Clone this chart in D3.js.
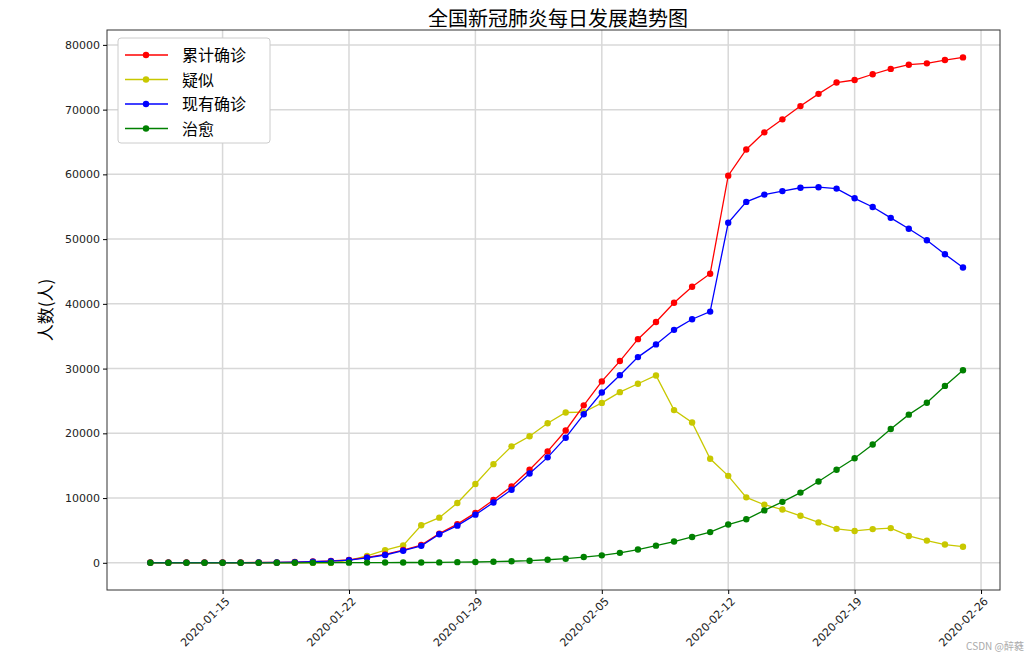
<!DOCTYPE html>
<html><head><meta charset="utf-8">
<script src="https://cdn.jsdelivr.net/npm/d3@7"></script>
<style>body{margin:0;background:#fff;font-family:"Noto Sans CJK SC","DejaVu Sans",sans-serif}</style>
</head><body><svg id="c" width="1031" height="659"></svg>
<script>
const dates = ["2020-01-11","2020-01-12","2020-01-13","2020-01-14","2020-01-15","2020-01-16","2020-01-17","2020-01-18","2020-01-19","2020-01-20","2020-01-21","2020-01-22","2020-01-23","2020-01-24","2020-01-25","2020-01-26","2020-01-27","2020-01-28","2020-01-29","2020-01-30","2020-01-31","2020-02-01","2020-02-02","2020-02-03","2020-02-04","2020-02-05","2020-02-06","2020-02-07","2020-02-08","2020-02-09","2020-02-10","2020-02-11","2020-02-12","2020-02-13","2020-02-14","2020-02-15","2020-02-16","2020-02-17","2020-02-18","2020-02-19","2020-02-20","2020-02-21","2020-02-22","2020-02-23","2020-02-24","2020-02-25"];
const confirmed = [41,41,41,41,41,41,45,62,121,198,291,440,830,1287,1975,2744,4515,5974,7711,9692,11791,14380,17205,20438,24324,28018,31161,34546,37198,40171,42638,44653,59804,63851,66492,68500,70548,72436,74185,74576,75465,76288,76936,77150,77658,78064];
const suspected = [0,0,0,0,0,0,0,0,0,54,393,1072,1965,2684,5794,6973,9239,12167,15238,17988,19544,21558,23214,23260,24702,26359,27657,28942,23589,21675,16067,13435,10109,8969,8228,7264,6242,5248,4922,5206,5365,4148,3434,2824,2491,2491].slice(0,46);
const existing = [34,34,34,34,34,34,37,54,112,178,258,400,771,1208,1870,2616,4409,5739,7436,9308,11289,13795,16288,19325,22942,26302,28985,31774,33738,35982,37626,38800,52526,55748,56873,57416,57934,58016,57805,56303,54965,53284,51606,49824,47672,45604];
const cured = [0,0,0,0,0,0,0,0,0,25,25,28,34,38,49,51,60,103,124,171,243,328,475,632,892,1153,1540,2050,2649,3281,3996,4740,5911,6723,8096,9419,10844,12552,14376,16155,18264,20659,22888,24734,27323,29745];
const seriesNames = ["累计确诊","疑似","现有确诊","治愈"];
const seriesColors = ["#ff0000","#c8c800","#0000ff","#008000"];
const yTicks = [0,10000,20000,30000,40000,50000,60000,70000,80000];
const xTickLabels = ["2020-01-15","2020-01-22","2020-01-29","2020-02-05","2020-02-12","2020-02-19","2020-02-26"];

// fix suspected to 46 from 01-11: shift so 01-22 =393
const susp = [0,0,0,0,0,0,0,0,0,0,0,393,1072,1965,2684,5794,6973,9239,12167,15238,17988,19544,21558,23214,23260,24702,26359,27657,28942,23589,21675,16067,13435,10109,8969,8228,7264,6242,5248,4922,5206,5365,4148,3434,2824,2491];

const parse = d3.timeParse("%Y-%m-%d");
const svg = d3.select("#c");
const L=107,R=1000,T=30,B=590;
const x = d3.scaleTime().domain([parse("2020-01-08").getTime()+0.6*864e5, parse("2020-02-27").getTime()+0.05*864e5]).range([L,R]);
const y = d3.scaleLinear().domain([-4200,82300]).range([B,T]);

const g = svg.append("g");
// grid
g.selectAll(".gy").data(yTicks).join("line").attr("x1",L).attr("x2",R).attr("y1",d=>y(d)).attr("y2",d=>y(d)).attr("stroke","#d8d8d8").attr("stroke-width",1.5);
g.selectAll(".gx").data(xTickLabels).join("line").attr("x1",d=>x(parse(d))).attr("x2",d=>x(parse(d))).attr("y1",T).attr("y2",B).attr("stroke","#d8d8d8").attr("stroke-width",1.5);
// frame
g.append("rect").attr("x",L).attr("y",T).attr("width",R-L).attr("height",B-T).attr("fill","none").attr("stroke","#333").attr("stroke-width",1);

const yAxis = d3.axisLeft(y).tickValues(yTicks).tickFormat(d3.format("d")).tickSize(4);
svg.append("g").attr("transform",`translate(${L},0)`).call(yAxis).call(a=>{a.select(".domain").remove();a.selectAll("text").attr("font-size",11).attr("font-family","DejaVu Sans").attr("fill","#222");});
const xAxis = d3.axisBottom(x).tickValues(xTickLabels.map(parse)).tickFormat(d3.timeFormat("%Y-%m-%d")).tickSize(4);
svg.append("g").attr("transform",`translate(0,${B})`).call(xAxis).call(a=>{a.select(".domain").remove();a.selectAll("text").attr("font-size",11).attr("font-family","DejaVu Sans").attr("fill","#222").attr("text-anchor","end").attr("dx","-0.3em").attr("dy","0.6em").attr("transform","rotate(-45)");});

const all = [confirmed,susp,existing,cured];
const order = [1,0,2,3];
const line = d3.line().x((d,i)=>x(parse(dates[i]))).y(d=>y(d));
order.forEach(k=>{
  svg.append("path").datum(all[k]).attr("d",line).attr("fill","none").attr("stroke",seriesColors[k]).attr("stroke-width",1.3);
  svg.append("g").selectAll("circle").data(all[k]).join("circle").attr("cx",(d,i)=>x(parse(dates[i]))).attr("cy",d=>y(d)).attr("r",3.2).attr("fill",seriesColors[k]);
});

// legend
const lg = svg.append("g");
lg.append("rect").attr("x",118).attr("y",38).attr("width",152).attr("height",105).attr("fill","#fff").attr("stroke","#ccc").attr("rx",3);
seriesNames.forEach((n,i)=>{
  const yy=55+i*24.5;
  lg.append("line").attr("x1",125).attr("x2",168).attr("y1",yy).attr("y2",yy).attr("stroke",seriesColors[i]).attr("stroke-width",1.5);
  lg.append("circle").attr("cx",146).attr("cy",yy).attr("r",3.2).attr("fill",seriesColors[i]);
  lg.append("text").attr("x",182).attr("y",yy+6).attr("font-size",16).text(n);
});

svg.append("text").attr("x",558).attr("y",26).attr("text-anchor","middle").attr("font-size",20).text("全国新冠肺炎每日发展趋势图");
svg.append("text").attr("transform","translate(52,310) rotate(-90)").attr("text-anchor","middle").attr("font-size",17).text("人数(人)");
svg.append("text").attr("x",1024).attr("y",650).attr("text-anchor","end").attr("font-size",10).attr("fill","#aaa").text("CSDN @醉蕤");
</script></body></html>
